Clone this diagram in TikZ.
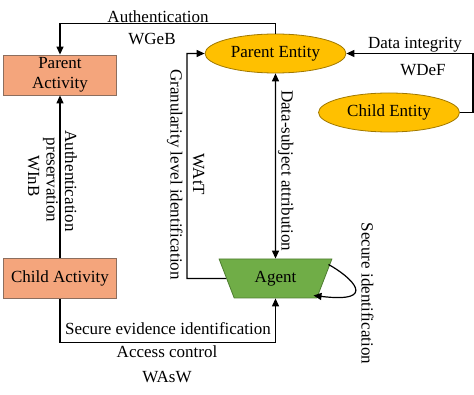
\documentclass[tikz,border=0pt]{standalone}
\usepackage{fontspec}
\setmainfont{Liberation Serif}
\usetikzlibrary{shapes.geometric,arrows.meta,calc}
\definecolor{actfill}{HTML}{F4A57C}
\definecolor{actdraw}{HTML}{8C6E5E}
\definecolor{entfill}{HTML}{FFC000}
\definecolor{entdraw}{HTML}{A07800}
\definecolor{agfill}{HTML}{70AD47}
\definecolor{agdraw}{HTML}{4E7D31}
\begin{document}
\begin{tikzpicture}[x=1pt,y=-1pt,
  font=\fontsize{17}{20}\selectfont,
  activity/.style={rectangle,draw=actdraw,fill=actfill,minimum width=113pt,minimum height=40pt,inner sep=0pt,align=center,line width=0.8pt},
  entity/.style={ellipse,draw=entdraw,fill=entfill,minimum width=141pt,minimum height=39pt,inner sep=0pt,line width=0.8pt},
  agentbox/.style={trapezium,trapezium angle=63,shape border rotate=180,trapezium stretches=true,minimum width=113pt,minimum height=39pt,draw=agdraw,fill=agfill,inner sep=0pt,line width=0.8pt},
  conn/.style={draw=black,line width=1.2pt},
  arr/.style={conn,-{Triangle[length=8pt,width=7pt]}},
  biarr/.style={conn,{Triangle[length=8pt,width=7pt]}-{Triangle[length=8pt,width=7pt]}},
  lbl/.style={inner sep=0pt,anchor=base},
  vlbl/.style={inner sep=0pt,anchor=base,rotate=-90}]
\useasboundingbox (0,0) rectangle (474,395);

\node[activity] (pa) at (60,75) {Parent\\Activity};
\node[activity] (ca) at (60,278.5) {Child Activity};
\node[entity] (pe) at (275.5,53.5) {Parent Entity};
\node[entity] (ce) at (389,112.5) {Child Entity};
\node[agentbox] (ag) at (275.5,278.5) {Agent};

\coordinate (c3) at (187,278.5);

% connectors
\draw[arr] (pe.north) -- ++(0,-10) -| (pa.north);
\draw[arr] (ce.east) -- ++(13,0) |- (pe.east);
\draw[arr] (ag.west) -- (c3) |- (pe.west);
\draw[biarr] (pe.south) -- (ag.north);
\draw[arr] (ca.north) -- (pa.south);
\draw[arr] (ca.south) -- ++(0,44) -| (ag.south);
\draw[arr] ($(ag.center)+(53,-14)$) .. controls ($(ag.center)+(75,-2)$) and ($(ag.center)+(105,25)$) .. ($(ag.center)+(38,17)$);

% labels
\node[lbl] (t1) at (158,23) {Authentication};
\node[lbl] (t2) at (152,45) {WGeB};
\node[lbl] (t3) at (415,49) {Data integrity};
\node[lbl] (t4) at (423,76) {WDeF};
\node[lbl] (t5) at (168,335) {Secure evidence identification};
\node[lbl] (t6) at (167,358) {Access control};
\node[lbl] (t7) at (167,382) {WAsW};
\node[vlbl] (v1) at (65,181) {Authentication};
\node[vlbl] (v2) at (46.5,180) {preservation};
\node[vlbl] (v3) at (28,176) {WInB};
\node[vlbl] (v4) at (193,174.5) {WAtT};
\node[vlbl] (v5) at (170.5,174.5) {Granularity level identification};
\node[vlbl] (v6) at (281.5,170.5) {Data-subject attribution};
\node[vlbl] (v7) at (361.5,293.5) {Secure identification};
\end{tikzpicture}
\end{document}
